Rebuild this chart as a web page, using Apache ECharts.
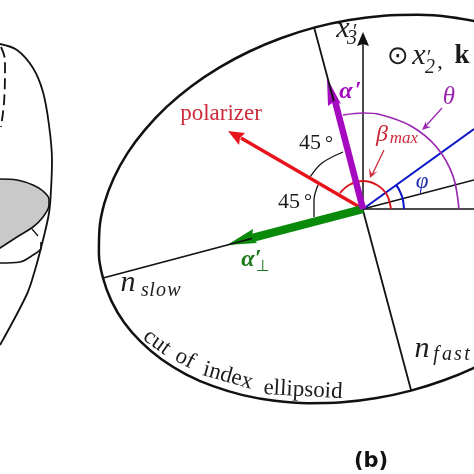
<!DOCTYPE html>
<html>
<head>
<meta charset="utf-8">
<style>html,body{margin:0;padding:0;background:#fff}#chart{width:474px;height:474px}</style>
<script src="https://cdn.jsdelivr.net/npm/echarts@6/dist/echarts.min.js"></script>
</head>
<body>
<div id="chart"></div>
<script>
const ellipseOutline = [[506.8,350.4],[476.7,366.5],[444.5,380],[411,390.6],[376.7,398],[342.1,402.3],[307.8,403.2],[274.6,400.8],[242.8,395.1],[213.1,386.2],[185.9,374.3],[161.8,359.6],[141.2,342.2],[124.3,322.7],[111.5,301.1],[103,278],[98.9,253.7],[99.5,228.7],[104.4,203.2],[113.8,178],[127.5,153.1],[145.3,129.4],[166.6,106.9],[191.4,86.2],[219.2,67.6],[249.3,51.5],[281.5,38],[315,27.4],[349.3,20],[383.9,15.7],[418.2,14.8],[451.4,17.2],[483.2,22.9]];
const leftShell = [[0,44],[17,50],[33,68],[43,92],[49,125],[52,160],[51,190],[49,213],[43,240],[35,270],[27,294],[0,345]];
const leftDashed = [[1,47],[5,60],[5,70],[4,103],[1,127]];
const leftCut = [[0,263],[20,262],[33,255],[41,248],[41,242]];
const leftTick = [[32,229],[38,236]];
const grayDisc = [[-5,179],[17,180],[33,185],[43,191],[49,199],[49,205],[43,217],[33,227],[17,237],[0,248],[-5,251]];

const nAxisFast = [[314,27],[411,390]];
const nAxisSlow = [[103,278],[363,209]];
const axisUp = [[363,209],[363,44]];
const axisRight = [[363,209],[474,209]];
const xOneLine = [[363,209],[474,180]];
const blueLine = [[363,209],[474,129]];

const thetaArc = [[459,209],[453,176],[436.5,147],[411,126],[380,114.5],[363,113],[343,115]];
const betaArc = [[391,209],[387,195],[377,185],[363,181],[349,185],[340,193]];
const phiArc = [[404,209],[402.6,198.4],[398.5,188.5],[396,185]];
const upperAngleArc = [[310,177],[322,163],[343,152]];
const lowerAngleArc = [[314,217],[314,200],[318,185]];
const thetaPointer = [[442,108],[424,128]];
const betaPointer = [[384,150],[372,175]];

const polarizerShaft = [[363,209],[241,138]];
const alphaShaft = [[363,209],[335,101]];
const alphaPerpShaft = [[363,209],[252,238]];
const upHead = [[363,32],[369,46],[363,44],[357,46]];
const polarizerHead = [[228,131],[245,133],[240,138],[239,145]];
const alphaHead = [[327,78],[341,104],[335,101],[328,106]];
const alphaPerpHead = [[227,245],[253,229],[252,237],[257,243]];
const thetaPointerHead = [[422,130],[431,127],[426,126],[426,121]];
const betaPointerHead = [[370,178],[378,171],[372,174],[369,168]];

const romanLabels = [['45',310,143],['45',289,202]];
const degreeLabels = [['°',329,145],['°',308,203]];
const polarizerLabel = [['polarizer',221,114]];
const curvedWords = [['cut',157,342,-36],['of',185,359,-27],['index',228,376,-16],['ellipsoid',303,390,-3]];
const mathLabels = [['n',128,283],['n',422,349],['x',343,29],['x',419,56]];
const smallMath = [['s',145,291],['l',152,291],['o',161,291],['w',174,291],['f',436,355],['a',447,355],['s',458,355],['t',467,355],['′',354,33],['3',352,39],['′',428,59],['2',430,68]];
const commaLabel = [[',',440,62]];
const boldK = [['k',462,56]];
const circleDot = [['⊙',398,57]];
const alphaLabel = [['α',346,92],['′',358,91]];
const alphaPerpLabel = [['α',248,260],['′',258,259]];
const perpLabel = [['⊥',263,267]];
const thetaLabel = [['θ',449,97]];
const betaLabel = [['β',382,135]];
const maxLabel = [['max',404,139]];
const phiLabel = [['φ',422,182]];
const panelLabel = [['(b)',371,462]];

const serif = '"Liberation Serif", serif';
const black = '#111111';
const ink = '#1c1c1c';
const purple = '#a60ac0';
const thinPurple = '#9a28b0';
const red = '#e8141c';
const darkRed = '#cc2b3a';
const blue = '#0a14c8';
const green = '#0a8a0a';
const darkGreen = '#1a7a1a';

function curve(points, color, width, extra) {
  return Object.assign({
    type: 'line', data: points, symbol: 'none', silent: true, smooth: 0.33,
    lineStyle: { color: color, width: width, cap: 'butt' }
  }, extra || {});
}
function straight(points, color, width) {
  return curve(points, color, width, { smooth: false });
}
function filled(points, color) {
  return {
    type: 'custom', data: [0], silent: true, z: 3,
    renderItem: function (params, api) {
      return {
        type: 'polygon',
        shape: { points: points.map(p => api.coord(p)) },
        style: { fill: color }
      };
    }
  };
}
function texts(rows, size, color, style) {
  return {
    type: 'scatter', symbolSize: 0, silent: true, z: 5,
    itemStyle: { opacity: 1 },
    data: rows.map(r => ({
      value: [r[1], r[2]], name: r[0],
      label: { rotate: r[3] || 0 }
    })),
    label: Object.assign({
      show: true, position: 'inside', formatter: '{b}', align: 'center', verticalAlign: 'middle',
      fontSize: size, color: color, opacity: 1, fontFamily: serif
    }, style || {})
  };
}

const chart = echarts.init(document.getElementById('chart'), null, { renderer: 'canvas' });
chart.setOption({
  animation: false,
  backgroundColor: '#ffffff',
  grid: { left: 0, right: 0, top: 0, bottom: 0 },
  xAxis: { type: 'value', min: 0, max: 474, show: false },
  yAxis: { type: 'value', min: 0, max: 474, inverse: true, show: false },
  series: [
    Object.assign(filled(grayDisc, '#c9c9c9'), { z: 1 }),
    curve(ellipseOutline, black, 2.5),
    curve(leftShell, black, 1.8),
    curve(leftDashed, black, 1.8, { lineStyle: { color: black, width: 1.8, type: [11, 5] } }),
    curve(grayDisc, black, 1.6),
    curve(leftCut, black, 1.6),
    straight(leftTick, black, 1.2),
    straight(nAxisFast, black, 1.8),
    straight(nAxisSlow, black, 1.8),
    straight(axisUp, black, 1.5),
    straight(axisRight, black, 1.5),
    straight(xOneLine, black, 1.5),
    straight(blueLine, blue, 2),
    curve(thetaArc, thinPurple, 1.7),
    curve(betaArc, '#d8141c', 1.9),
    curve(phiArc, blue, 2),
    curve(upperAngleArc, black, 1.3),
    curve(lowerAngleArc, black, 1.3),
    straight(thetaPointer, thinPurple, 1.3),
    straight(betaPointer, darkRed, 1.3),
    straight(polarizerShaft, red, 3.4),
    straight(alphaPerpShaft, green, 8.5),
    straight(alphaShaft, purple, 6.5),
    filled(upHead, black),
    filled(polarizerHead, red),
    filled(alphaHead, purple),
    filled(alphaPerpHead, green),
    filled(thetaPointerHead, thinPurple),
    filled(betaPointerHead, darkRed),
    texts(romanLabels, 22, ink),
    texts(degreeLabels, 20, ink),
    texts(polarizerLabel, 23, darkRed),
    texts(curvedWords, 23, ink),
    texts(mathLabels, 30, ink, { fontStyle: 'italic' }),
    texts(smallMath, 20, ink, { fontStyle: 'italic' }),
    texts(commaLabel, 22, ink),
    texts(boldK, 27, ink, { fontWeight: 'bold' }),
    texts(circleDot, 26, ink, { fontFamily: '"DejaVu Sans"' }),
    texts(alphaLabel, 24, purple, { fontWeight: 'bold', fontStyle: 'italic' }),
    texts(alphaPerpLabel, 24, darkGreen, { fontWeight: 'bold', fontStyle: 'italic' }),
    texts(perpLabel, 16, darkGreen, { fontFamily: '"DejaVu Sans"' }),
    texts(thetaLabel, 25, thinPurple, { fontStyle: 'italic' }),
    texts(betaLabel, 24, darkRed, { fontStyle: 'italic' }),
    texts(maxLabel, 17, darkRed, { fontStyle: 'italic' }),
    texts(phiLabel, 23, '#2030b0', { fontStyle: 'italic' }),
    texts(panelLabel, 21, black, { fontWeight: 'bold', fontFamily: '"DejaVu Sans"' })
  ]
});
window.addEventListener('resize', function () { chart.resize(); });
</script>
</body>
</html>
